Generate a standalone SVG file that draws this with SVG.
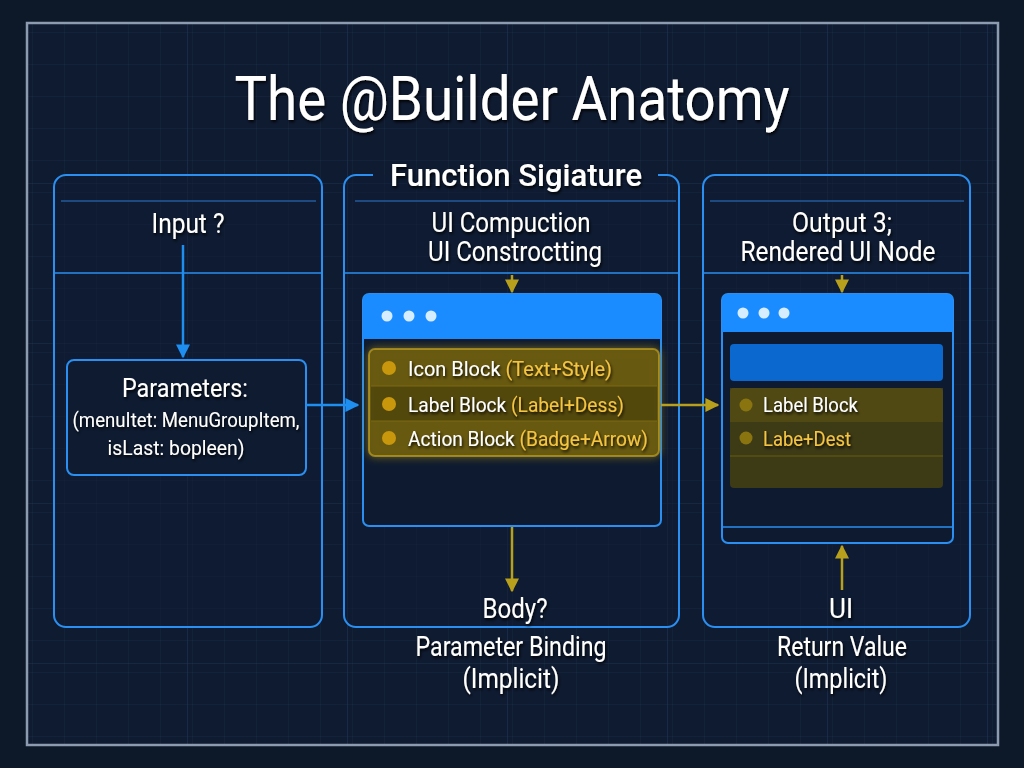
<svg xmlns="http://www.w3.org/2000/svg" width="1024" height="768" viewBox="0 0 1024 768">
<defs>
<pattern id="grid" width="32" height="32" patternUnits="userSpaceOnUse">
<path d="M32 0H0V32" fill="none" stroke="#1a2942" stroke-width="1"/>
</pattern>
<pattern id="grid2" width="160" height="160" patternUnits="userSpaceOnUse" x="27" y="23">
<path d="M160 0H0V160" fill="none" stroke="#22334f" stroke-width="1.2"/>
</pattern>
<marker id="ab" viewBox="0 0 10 10" refX="9" refY="5" markerWidth="14" markerHeight="14" markerUnits="userSpaceOnUse" orient="auto">
<path d="M0 0L10 5L0 10z" fill="#1e8ff0"/>
</marker>
<marker id="ay" viewBox="0 0 10 10" refX="9" refY="5" markerWidth="14" markerHeight="14" markerUnits="userSpaceOnUse" orient="auto">
<path d="M0 0L10 5L0 10z" fill="#b8a01c"/>
</marker>
<filter id="glow" x="-10%" y="-20%" width="120%" height="140%">
<feGaussianBlur stdDeviation="4" result="b"/>
<feMerge><feMergeNode in="b"/><feMergeNode in="SourceGraphic"/></feMerge>
</filter>
<filter id="ts" x="-10%" y="-30%" width="120%" height="160%">
<feDropShadow dx="1" dy="2" stdDeviation="1.5" flood-color="#000" flood-opacity="0.9"/>
</filter>
</defs>
<style>
text{font-family:Roboto,"Noto Sans","DejaVu Sans",sans-serif;fill:#ffffff;text-anchor:middle;filter:url(#ts)}
.h{font-size:27px}
.r{font-size:20px;text-anchor:start}
.g{fill:#f5c542}
.panel{fill:#0f1c33;fill-opacity:0.55;stroke:#2a8ff0;stroke-width:2}
.sep{stroke:#2a8ff0;stroke-width:1.6}
.sepl{stroke:#2a7ad0;stroke-width:1.2}
.win{fill:#0d1a30;stroke:#2a8ff0;stroke-width:2}
.hdr{fill:#1a8cff}
.dot{fill:#d6ecff}
.bc{stroke:#1e8ff0;stroke-width:2.5;fill:none}
.yc{stroke:#b8a01c;stroke-width:2.5;fill:none}
.bul{fill:#c9970c}
</style>
<rect width="1024" height="768" fill="#0d1829"/>
<rect x="27" y="23" width="971" height="722" fill="#0f1b31"/>
<rect x="27" y="23" width="971" height="722" fill="url(#grid)"/>
<rect x="27" y="23" width="971" height="722" fill="url(#grid2)"/>
<rect x="27" y="23" width="971" height="722" fill="none" stroke="#8d9bb0" stroke-width="2.5"/>

<text x="512" y="120" font-size="62" font-weight="400" textLength="555" lengthAdjust="spacingAndGlyphs">The @Builder Anatomy</text>

<g id="input-panel">
<rect class="panel" x="54" y="175" width="268" height="452" rx="12"/>
<line class="sepl" x1="61" y1="201" x2="316" y2="201"/>
<line class="sep" x1="54" y1="273" x2="322" y2="273"/>
<text class="h" x="188" y="233" textLength="73" lengthAdjust="spacingAndGlyphs">Input ?</text>
</g>

<g id="parameters">
<rect x="67" y="360" width="239" height="115" rx="7" fill="#0e1b31" stroke="#2a8ff0" stroke-width="2"/>
<text x="185" y="397" font-size="26" textLength="126" lengthAdjust="spacingAndGlyphs">Parameters:</text>
<text x="186" y="427" font-size="21" textLength="227" lengthAdjust="spacingAndGlyphs">(menuItet: MenuGroupItem,</text>
<text x="176" y="455" font-size="21" textLength="137" lengthAdjust="spacingAndGlyphs">isLast: bopleen)</text>
</g>

<g id="signature-panel">
<path class="panel" d="M373 175H356a12 12 0 0 0-12 12V615a12 12 0 0 0 12 12H667a12 12 0 0 0 12-12V187a12 12 0 0 0-12-12H658"/>
<line class="sepl" x1="355" y1="201" x2="676" y2="201"/>
<line class="sep" x1="344" y1="273" x2="679" y2="273"/>
<text x="516" y="186" font-size="32" font-weight="500" textLength="252" lengthAdjust="spacingAndGlyphs">Function Sigiature</text>
<text class="h" x="511" y="232" textLength="159" lengthAdjust="spacingAndGlyphs">UI Compuction</text>
<text class="h" x="515" y="261" textLength="174" lengthAdjust="spacingAndGlyphs">UI Constroctting</text>
</g>

<g id="builder-window">
<rect class="win" x="363" y="294" width="298" height="232" rx="6"/>
<path class="hdr" d="M369 294H655a6 6 0 0 1 6 6V339H363V300a6 6 0 0 1 6-6z"/>
<circle class="dot" cx="387" cy="316" r="5.5"/>
<circle class="dot" cx="409" cy="316" r="5.5"/>
<circle class="dot" cx="431" cy="316" r="5.5"/>
<rect x="369" y="349" width="290" height="107" rx="6" fill="#6e5e0a" fill-opacity="0.75" stroke="#e0b820" stroke-opacity="0.55" stroke-width="2" filter="url(#glow)"/>
<rect x="371" y="386" width="286" height="35" fill="#3a3208" fill-opacity="0.45"/>
<line x1="371" y1="386" x2="657" y2="386" stroke="#7a6a12" stroke-width="1.2"/>
<line x1="371" y1="421" x2="657" y2="421" stroke="#7a6a12" stroke-width="1.2"/>
<circle class="bul" cx="389" cy="368" r="7"/>
<circle class="bul" cx="389" cy="404" r="7"/>
<circle class="bul" cx="389" cy="438" r="7"/>
<text class="r" x="408" y="376" textLength="204" lengthAdjust="spacingAndGlyphs">Icon Block <tspan class="g">(Text+Style)</tspan></text>
<text class="r" x="408" y="412" textLength="216" lengthAdjust="spacingAndGlyphs">Label Block <tspan class="g">(Label+Dess)</tspan></text>
<text class="r" x="408" y="446" textLength="240" lengthAdjust="spacingAndGlyphs">Action Block <tspan class="g">(Badge+Arrow)</tspan></text>
</g>

<g id="body-label">
<text class="h" x="515" y="618" textLength="65" lengthAdjust="spacingAndGlyphs">Body?</text>
<text class="h" x="511" y="656" textLength="191" lengthAdjust="spacingAndGlyphs">Parameter Binding</text>
<text class="h" x="511" y="688" textLength="97" lengthAdjust="spacingAndGlyphs">(Implicit)</text>
</g>

<g id="output-panel">
<rect class="panel" x="703" y="175" width="267" height="452" rx="12"/>
<line class="sepl" x1="710" y1="201" x2="964" y2="201"/>
<line class="sep" x1="703" y1="273" x2="970" y2="273"/>
<text class="h" x="842" y="232" textLength="100" lengthAdjust="spacingAndGlyphs">Output 3;</text>
<text class="h" x="838" y="261" textLength="195" lengthAdjust="spacingAndGlyphs">Rendered UI Node</text>
</g>

<g id="rendered-window">
<rect class="win" x="722" y="294" width="231" height="249" rx="6"/>
<path class="hdr" d="M728 294H947a6 6 0 0 1 6 6V332H722V300a6 6 0 0 1 6-6z"/>
<circle class="dot" cx="743" cy="313" r="5.5"/>
<circle class="dot" cx="764" cy="313" r="5.5"/>
<circle class="dot" cx="784" cy="313" r="5.5"/>
<line x1="722" y1="527" x2="953" y2="527" stroke="#2a8ff0" stroke-width="1.6"/>
<rect x="730" y="344" width="213" height="37" rx="4" fill="#0a68cf"/>
<rect x="730" y="388" width="213" height="100" rx="4" fill="#4a4210" fill-opacity="0.8"/>
<rect x="730" y="388" width="213" height="34" fill="#5e5412" fill-opacity="0.6"/>
<line x1="730" y1="456" x2="943" y2="456" stroke="#6a5c12" stroke-width="1.2"/>
<circle cx="746" cy="405" r="6.5" fill="#8a7410"/>
<circle cx="746" cy="438" r="6.5" fill="#8a7410"/>
<text class="r" x="763" y="412" textLength="95" lengthAdjust="spacingAndGlyphs">Label Block</text>
<text class="r g" x="763" y="446" textLength="88" lengthAdjust="spacingAndGlyphs">Labe+Dest</text>
</g>

<g id="return-label">
<text class="h" x="841" y="618" textLength="24" lengthAdjust="spacingAndGlyphs">UI</text>
<text class="h" x="842" y="656" textLength="130" lengthAdjust="spacingAndGlyphs">Return Value</text>
<text class="h" x="841" y="688" textLength="93" lengthAdjust="spacingAndGlyphs">(Implicit)</text>
</g>

<g id="connectors">
<line class="bc" x1="183" y1="245" x2="183" y2="357" marker-end="url(#ab)"/>
<line class="bc" x1="306" y1="405" x2="358" y2="405" marker-end="url(#ab)"/>
<line class="yc" x1="512" y1="275" x2="512" y2="292" marker-end="url(#ay)"/>
<line class="yc" x1="661" y1="405" x2="718" y2="405" marker-end="url(#ay)"/>
<line class="yc" x1="512" y1="527" x2="512" y2="591" marker-end="url(#ay)"/>
<line class="yc" x1="842" y1="275" x2="842" y2="292" marker-end="url(#ay)"/>
<line class="yc" x1="842" y1="590" x2="842" y2="546" marker-end="url(#ay)"/>
</g>
</svg>
